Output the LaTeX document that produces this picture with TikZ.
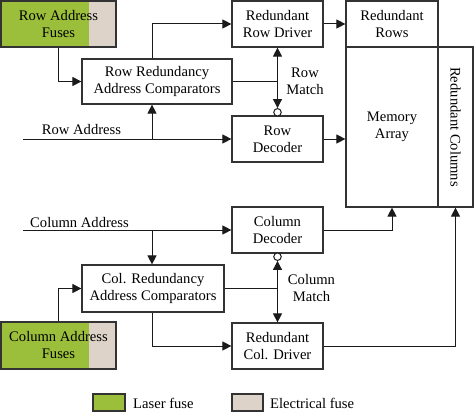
\documentclass[tikz,border=0pt]{standalone}
\usepackage{fontspec}
\setmainfont{Liberation Serif}
\usetikzlibrary{arrows.meta}
\definecolor{lasergreen}{HTML}{9CBF3B}
\definecolor{efuse}{HTML}{DDD3C9}
\definecolor{edge}{HTML}{333333}
\definecolor{wire}{HTML}{1A1A1A}
\begin{document}
\begin{tikzpicture}[x=1pt,y=-1pt,
  box/.style={draw=edge, line width=1.2pt, align=center, font=\fontsize{14.6}{17}\selectfont, inner sep=0pt, anchor=center},
  conn/.style={draw=wire, line width=1pt},
  arr/.style={conn, -{Triangle[length=9pt,width=9pt]}},
  lbl/.style={align=center, font=\fontsize{14.6}{17}\selectfont, inner sep=0pt},
  matchdot/.style={circle, draw=wire, fill=white, line width=1pt, minimum size=7.5pt, inner sep=0pt}]
\useasboundingbox (0,0) rectangle (474,412);
\clip (0,0) rectangle (474,412);
% fuse fills
\fill[lasergreen] (1,1) rectangle (89,47);
\fill[efuse] (89,1) rectangle (116,47);
\fill[lasergreen] (1,322) rectangle (89,369);
\fill[efuse] (89,322) rectangle (116,369);
% boxes
\node[box, minimum width=115pt, minimum height=46pt] (rf) at (58.5,24) {Row Address\\Fuses};
\node[box, minimum width=150pt, minimum height=45pt] (rrac) at (157,81.5) {Row Redundancy\\Address Comparators};
\node[box, minimum width=91pt, minimum height=46pt] (rrd) at (277.5,24) {Redundant\\Row Driver};
\node[box, minimum width=91pt, minimum height=46pt] (rdec) at (277.5,139) {Row\\Decoder};
\node[box, minimum width=92pt, minimum height=46pt] (rrows) at (392,24) {Redundant\\Rows};
\node[box, minimum width=92pt, minimum height=160pt] (marr) at (392,127) {Memory\\Array};
\node[box, minimum width=35pt, minimum height=160pt] (rcols) at (455.5,127) {};
\node[lbl, rotate=-90] (rcolst) at (rcols.center) {Redundant Columns};
\node[box, minimum width=91pt, minimum height=46pt] (cdec) at (277.5,230) {Column\\Decoder};
\node[box, minimum width=142pt, minimum height=47pt] (crac) at (153,288.5) {Col. Redundancy\\Address Comparators};
\node[box, minimum width=115pt, minimum height=47pt] (cf) at (58.5,345.5) {Column Address\\Fuses};
\node[box, minimum width=91pt, minimum height=46pt] (crd) at (277.5,346) {Redundant\\Col. Driver};
% match dots
\node[matchdot] (rdot) at (277.5,112.3) {};
\node[matchdot] (cdot) at (277.5,256.7) {};
% labels
\node[lbl, anchor=base] (ralbl) at (81.5,134) {Row Address};
\node[lbl, anchor=base] (calbl) at (79.5,227) {Column Address};
\node[lbl] (rmlbl) at (305,81.5) {Row\\Match};
\node[lbl] (cmlbl) at (311.5,288.5) {Column\\Match};
% row connectors
\coordinate (rain) at (23,139);
\coordinate (rj) at (152,139);
\draw[arr] (rain) -- (rain -| rdec.west);
\draw[arr] (rj) -- (rj |- rrac.south);
\draw[arr] (rj |- rrac.north) |- (rrd.west);
\draw[arr] (rf.south) |- (rrac.west);
\coordinate (rm) at (rrac.east -| rrd.south);
\draw[conn] (rrac.east) -- (rm);
\draw[arr] (rm) -- (rrd.south);
\draw[arr] (rm) -- (rdot.north);
\draw[arr] (rrd.east) -- (rrd.east -| rrows.west);
\draw[arr] (rdec.east) -- (rdec.east -| marr.west);
% column connectors
\coordinate (cain) at (23,230);
\coordinate (cj) at (152,230);
\draw[arr] (cain) -- (cain -| cdec.west);
\draw[arr] (cj) -- (cj |- crac.north);
\draw[arr] (cj |- crac.south) |- (crd.west);
\draw[arr] (cf.north) |- (crac.west);
\coordinate (cm) at (crac.east -| crd.north);
\draw[conn] (crac.east) -- (cm);
\draw[arr] (cm) -- (crd.north);
\draw[arr] (cm) -- (cdot.south);
\draw[arr] (cdec.east) -| (marr.south);
\draw[arr] (crd.east) -| (rcols.south);
% legend
\node[box, fill=lasergreen, minimum width=32pt, minimum height=17pt] (lgl) at (109,402.5) {};
\node[lbl, anchor=base west] (lgltxt) at (133,408) {Laser fuse};
\node[box, fill=efuse, minimum width=31pt, minimum height=17pt] (lge) at (247.5,402.5) {};
\node[lbl, anchor=base west] (lgetxt) at (270,408) {Electrical fuse};
\end{tikzpicture}
\end{document}
